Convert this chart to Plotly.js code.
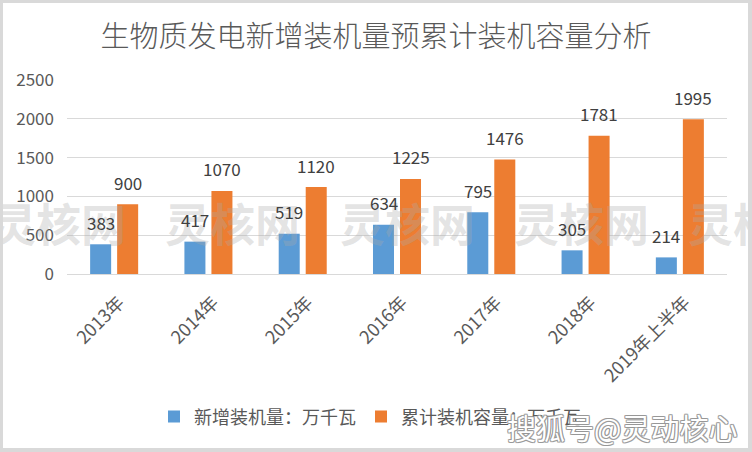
<!DOCTYPE html>
<html><head><meta charset="utf-8">
<script src="https://cdn.plot.ly/plotly-3.0.1.min.js"></script>
<style>
html,body{margin:0;padding:0;background:#d9d9d9;width:752px;height:452px;overflow:hidden;}
#chart{position:absolute;left:3px;top:3px;width:745px;height:445px;background:#fff;}
</style></head>
<body><div id="chart"></div>
<script>
const categories = ['2013年','2014年','2015年','2016年','2017年','2018年','2019年上半年'];
const newCapacity = [383, 417, 519, 634, 795, 305, 214];
const cumCapacity = [900, 1070, 1120, 1225, 1476, 1781, 1995];
const seriesNames = ['新增装机量：万千瓦', '累计装机容量：万千瓦'];
const titleText = '生物质发电新增装机量预累计装机容量分析';
const watermark = '灵核网';
const watermarkPageX = [58, 232, 407, 581, 755];
const sohuMark = '搜狐号@灵动核心';

const FONT = '"Noto Sans CJK SC", "Noto Sans", sans-serif';
const blue = '#5B9BD5', orange = '#ED7D31';

const traces = [
  {type:'bar', name:seriesNames[0], x:categories, y:newCapacity, marker:{color:blue}, hoverinfo:'none'},
  {type:'bar', name:seriesNames[1], x:categories, y:cumCapacity, marker:{color:orange}, hoverinfo:'none'}
];

const annotations = [];
watermarkPageX.forEach(function(px){
  annotations.push({xref:'paper', yref:'paper', x:(px-67)/660, y:(277-225)/197, text:watermark, showarrow:false,
    font:{family:FONT, size:45, color:'rgba(170,170,170,0.33)', weight:'bold'}, xanchor:'center', yanchor:'middle'});
});
[newCapacity, cumCapacity].forEach(function(vals, si){
  vals.forEach(function(v, i){
    annotations.push({x:categories[i], y:v, xref:'x', yref:'y', text:String(v), showarrow:false,
      xshift: si===0 ? -13.5 : 13.5, yshift:22, yanchor:'middle',
      font:{family:FONT, size:17, color:'#404040'}});
  });
});
const sx = (622-67)/660, sy = (277-432)/197;
[[-1,0],[1,0],[0,-1],[0,1],[1,1],[-1,-1],[1,-1],[-1,1]].forEach(function(d){
  annotations.push({xref:'paper', yref:'paper', x:sx, y:sy, text:sohuMark, showarrow:false,
    xshift:d[0], yshift:d[1], font:{family:FONT, size:29, color:'rgba(150,150,150,0.75)'}, xanchor:'center', yanchor:'middle'});
});
annotations.push({xref:'paper', yref:'paper', x:sx, y:sy, text:sohuMark, showarrow:false,
  font:{family:FONT, size:29, color:'#ffffff'}, xanchor:'center', yanchor:'middle'});

const layout = {
  width:745, height:445,
  margin:{l:64, r:21, t:77, b:171},
  paper_bgcolor:'#fff', plot_bgcolor:'#fff',
  font:{family:FONT, color:'#595959'},
  title:{text:titleText, x:373/745, xref:'container', xanchor:'center', y:1-34/445, yref:'container', yanchor:'middle',
    font:{family:FONT, size:29, color:'#595959', weight:300}},
  barmode:'group', bargap:0.427, bargroupgap:0.222,
  xaxis:{type:'category', tickangle:-45, tickfont:{size:18, color:'#595959'}, showgrid:false,
    showline:true, linecolor:'#d9d9d9', linewidth:1, ticks:'', zeroline:false,
    ticklabelshift:5, ticklabelstandoff:10},
  yaxis:{range:[0,2500], dtick:500, tickfont:{size:17, color:'#595959'}, gridcolor:'#d9d9d9', gridwidth:1,
    zeroline:false, showline:false, ticks:'', ticklabelstandoff:12},
  showlegend:true,
  legend:{orientation:'h', x:(370-67)/660, xanchor:'center', y:(277-422)/197, yanchor:'middle',
    font:{family:FONT, size:18, color:'#595959'}, itemwidth:30, traceorder:'normal'},
  annotations:annotations
};
Plotly.newPlot('chart', traces, layout, {staticPlot:true, displayModeBar:false});
</script></body></html>
